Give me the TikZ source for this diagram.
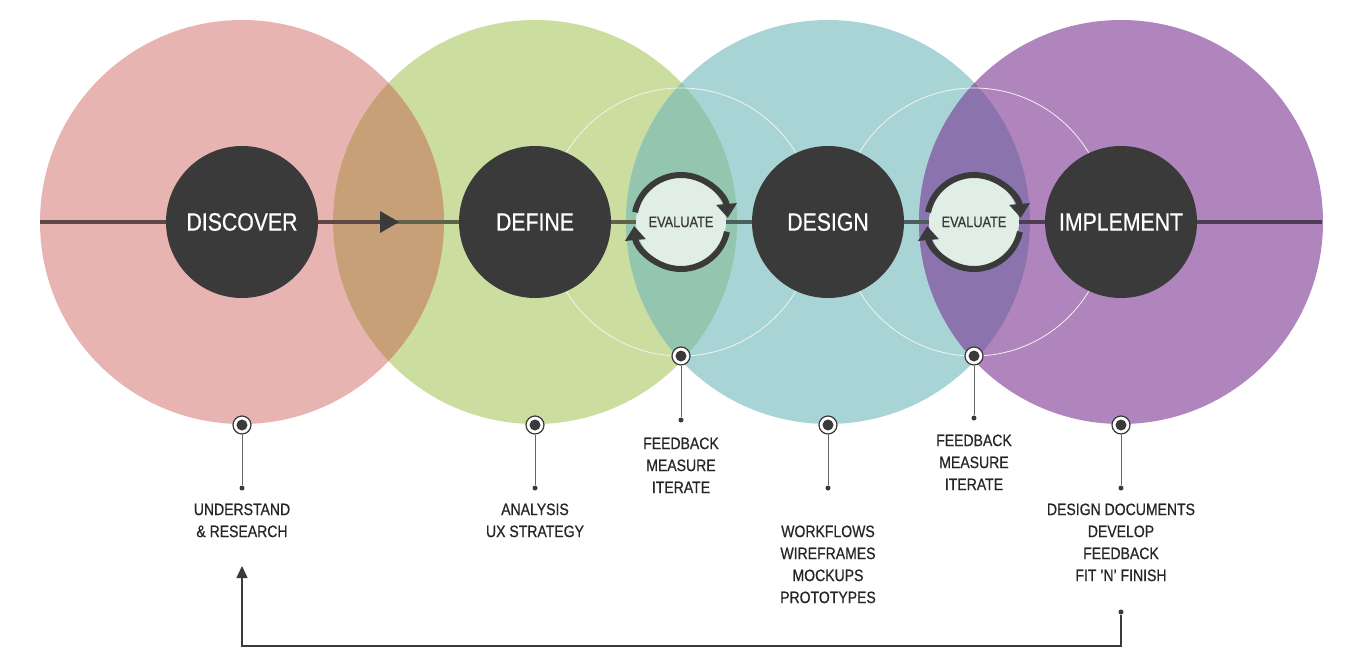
\documentclass[tikz,border=0pt]{standalone}
\usepackage{fontspec}
\setmainfont[FakeStretch=0.85,FakeBold=0.6]{Liberation Sans}
\usetikzlibrary{arrows.meta}
\definecolor{cpink}{HTML}{E8B4B1}
\definecolor{cgreen}{HTML}{CCDDA0}
\definecolor{cteal}{HTML}{A9D4D6}
\definecolor{cpurple}{HTML}{B085BD}
\definecolor{opg}{HTML}{C7A077}
\definecolor{ogt}{HTML}{94C5AE}
\definecolor{otp}{HTML}{8B74AE}
\definecolor{dark}{HTML}{3A3A3A}
\definecolor{evfill}{HTML}{E0EEE6}
\begin{document}
\begin{tikzpicture}[x=1pt,y=-1pt,
  core/.style={circle,fill=dark,minimum size=152pt,inner sep=0pt,text=white,font=\fontsize{25}{27}\selectfont},
  evalnode/.style={circle,fill=evfill,minimum size=90pt,inner sep=0pt,text=dark,font=\fontsize{15}{16}\selectfont},
  marker/.style={circle,fill=white,draw=dark,line width=1.2pt,minimum size=18pt,inner sep=0pt,path picture={\fill[dark] (path picture bounding box.center) circle (5.5pt);}},
  smalldot/.style={circle,fill=dark,minimum size=5pt,inner sep=0pt},
  lab/.style={align=center,text=black!85,font=\fontsize{16.5}{22}\selectfont,anchor=north},
  stem/.style={draw=black!60,line width=1pt},
  ring/.style={draw=dark,line width=6pt,-{Triangle[length=14pt,width=20pt]}}]
\useasboundingbox (0,0) rectangle (1358,670);
\fill[white] (0,0) rectangle (1358,670);
% big circles
\fill[cpink] (242,222) circle (202);
\fill[cgreen] (535,222) circle (202);
\fill[cteal] (828,222) circle (202);
\fill[cpurple] (1121,222) circle (202);
\begin{scope}\clip (242,222) circle (202); \fill[opg] (535,222) circle (202);\end{scope}
\begin{scope}\clip (535,222) circle (202); \fill[ogt] (828,222) circle (202);\end{scope}
\begin{scope}\clip (828,222) circle (202); \fill[otp] (1121,222) circle (202);\end{scope}
% thin white circles
\draw[white!90!gray,line width=0.8pt] (681,222) circle (134);
\draw[white!90!gray,line width=0.8pt] (974,222) circle (134);
% axis
\draw[line width=4pt,color=cpink!40!black] (40,222) -- (390,222);
\draw[line width=4pt,color=cgreen!45!black] (390,222) -- (681,222);
\draw[line width=4pt,color=cteal!45!black] (681,222) -- (974,222);
\draw[line width=4pt,color=cpurple!45!black] (974,222) -- (1322,222);
\fill[dark] (380,211) -- (399,222) -- (380,233) -- cycle;
% cores
\node[core] (discover) at (242,222) {DISCOVER};
\node[core] (define) at (535,222) {DEFINE};
\node[core] (design) at (828,222) {DESIGN};
\node[core] (implement) at (1121,222) {IMPLEMENT};
\node[evalnode] (ev1) at (681,222) {EVALUATE};
\node[evalnode] (ev2) at (974,222) {EVALUATE};
\foreach \c in {ev1,ev2}{
  \draw[ring] (\c.center) ++(-168:47) arc[start angle=-168,end angle=-5,radius=47];
  \draw[ring] (\c.center) ++(12:47) arc[start angle=12,end angle=175,radius=47];
}
% markers & labels
\node[marker] (m1) at (242,425) {};
\node[marker] (m2) at (535,425) {};
\node[marker] (m3) at (828,425) {};
\node[marker] (m4) at (1121,425) {};
\node[marker] (m5) at (681,356) {};
\node[marker] (m6) at (974,356) {};
\node[smalldot] (d1) at (242,488) {};
\node[smalldot] (d2) at (535,488) {};
\node[smalldot] (d3) at (828,488) {};
\node[smalldot] (d4) at (1121,488) {};
\node[smalldot] (d5) at (681,420) {};
\node[smalldot] (d6) at (974,418) {};
\foreach \i in {1,...,6}{\draw[stem] (m\i) -- (d\i);}
\node[lab] (t1) at (242,500) {UNDERSTAND\\\& RESEARCH};
\node[lab] (t2) at (535,500) {ANALYSIS\\UX STRATEGY};
\node[lab] (t3) at (828,522) {WORKFLOWS\\WIREFRAMES\\MOCKUPS\\PROTOTYPES};
\node[lab] (t4) at (1121,500) {DESIGN DOCUMENTS\\DEVELOP\\FEEDBACK\\FIT ’N’ FINISH};
\node[lab] (t5) at (681,434) {FEEDBACK\\MEASURE\\ITERATE};
\node[lab] (t6) at (974,431) {FEEDBACK\\MEASURE\\ITERATE};
% loop back
\node[smalldot] (ld) at (1121,612) {};
\coordinate (lt) at (242,566);
\draw[line width=1.5pt,draw=dark,-{Triangle[length=12pt,width=11pt]}] (ld) -- (1121,646) -- (242,646) -- (lt);
\end{tikzpicture}
\end{document}
